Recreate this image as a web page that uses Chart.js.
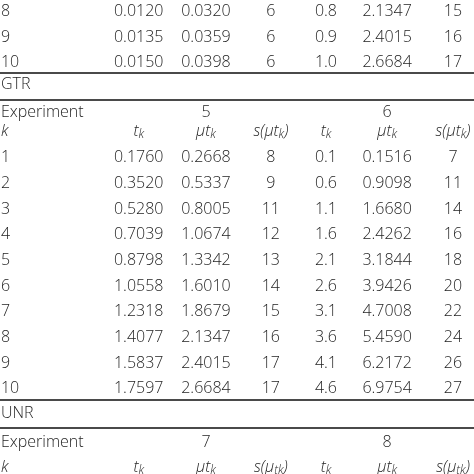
<!DOCTYPE html><html><head><style>html,body{margin:0;background:#fff}#w{width:474px;height:474px}</style>
<script src="https://cdn.jsdelivr.net/npm/chart.js@4"></script></head><body><div id="w"><canvas id="c"></canvas></div><script>
const topRows=[["8","0.0120","0.0320","6","0.8","2.1347","15"],["9","0.0135","0.0359","6","0.9","2.4015","16"],["10","0.0150","0.0398","6","1.0","2.6684","17"]];
const gtrExperiments=["5","6"];
const headers=["k","t_{k}","μt_{k}","s(μt_{k})","t_{k}","μt_{k}","s(μt_{k})"];
const gtrK=["1","2","3","4","5","6","7","8","9","10"];
const gtrT5=["0.1760","0.3520","0.5280","0.7039","0.8798","1.0558","1.2318","1.4077","1.5837","1.7597"];
const gtrMu5=["0.2668","0.5337","0.8005","1.0674","1.3342","1.6010","1.8679","2.1347","2.4015","2.6684"];
const gtrS5=["8","9","11","12","13","14","15","16","17","17"];
const gtrT6=["0.1","0.6","1.1","1.6","2.1","2.6","3.1","3.6","4.1","4.6"];
const gtrMu6=["0.1516","0.9098","1.6680","2.4262","3.1844","3.9426","4.7008","5.4590","6.2172","6.9754"];
const gtrS6=["7","11","14","16","18","20","22","24","26","27"];
const unrExperiments=["7","8"];
const unrHeaders=["k","t_{k}","μt_{k}","s(μ_{tk})","t_{k}","μt_{k}","s(μ_{tk})"];
const colX=[0.02,2.97,4.41,5.8,6.98,8.29,9.7];
const U=25.7;
const rowY={top:[11,37,62].map(v=>v/U),line1:73/U,gtr:84/U,line2:100/U,exp1:112/U,hdr1:131/U,
 body:[157,183,209,234,260,286,311,337,363,388].map(v=>v/U),line3:400/U,unr:413/U,line4:428/U,exp2:442/U,hdr2:467/U};
function drawRich(ctx,s,x,y,align,size){
  const segs=[];let i=0;
  while(i<s.length){ if(s[i]==='_'&&s[i+1]==='{'){const j=s.indexOf('}',i);segs.push([s.slice(i+2,j),1]);i=j+1;}
    else{let j=i;while(j<s.length&&!(s[j]==='_'&&s[j+1]==='{'))j++;segs.push([s.slice(i,j),0]);i=j;}}
  const fN=`italic 300 ${size}px "Open Sans"`,fS=`italic 300 ${Math.round(size*0.72)}px "Open Sans"`;
  let w=0;segs.forEach(g=>{ctx.font=g[1]?fS:fN;w+=ctx.measureText(g[0]).width;});
  let cx=align==='left'?x:x-w/2;ctx.textAlign='left';
  segs.forEach(g=>{ctx.font=g[1]?fS:fN;ctx.fillText(g[0],cx,g[1]?y+4:y);cx+=ctx.measureText(g[0]).width;});
}
const tablePlugin={id:'tbl',afterDraw(ch){
  const ctx=ch.ctx,xs=ch.scales.x,ys=ch.scales.y;const X=c=>xs.getPixelForValue(colX[c]),Y=v=>ys.getPixelForValue(v);
  ctx.save();ctx.fillStyle='#1e1e1e';ctx.textBaseline='middle';const F='300 16px "Open Sans"';
  const txt=(s,c,y)=>{ctx.font=F;ctx.textAlign=c===0?'left':'center';ctx.fillText(s,X(c),Y(y));};
  topRows.forEach((r,i)=>r.forEach((s,c)=>txt(s,c,rowY.top[i])));
  txt("GTR",0,rowY.gtr);txt("Experiment",0,rowY.exp1);txt(gtrExperiments[0],2,rowY.exp1);txt(gtrExperiments[1],5,rowY.exp1);
  headers.forEach((h,c)=>drawRich(ctx,h,X(c),Y(rowY.hdr1),c===0?'left':'center',16));
  const cols=[gtrK,gtrT5,gtrMu5,gtrS5,gtrT6,gtrMu6,gtrS6];
  cols.forEach((col,c)=>col.forEach((s,i)=>txt(s,c,rowY.body[i])));
  txt("UNR",0,rowY.unr);txt("Experiment",0,rowY.exp2);txt(unrExperiments[0],2,rowY.exp2);txt(unrExperiments[1],5,rowY.exp2);
  unrHeaders.forEach((h,c)=>drawRich(ctx,h,X(c),Y(rowY.hdr2),c===0?'left':'center',16));
  ctx.strokeStyle='#4a4a4a';ctx.lineWidth=2;
  [rowY.line1,rowY.line2,rowY.line3,rowY.line4].forEach(v=>{ctx.beginPath();ctx.moveTo(0,Y(v));ctx.lineTo(474,Y(v));ctx.stroke();});
  ctx.restore();}};
new Chart(document.getElementById('c'),{type:'scatter',data:{datasets:[{data:[]}]},
 options:{responsive:true,maintainAspectRatio:false,animation:false,layout:{padding:0},
  plugins:{legend:{display:false},tooltip:{enabled:false}},
  scales:{x:{type:'linear',min:0,max:10.15,display:false},y:{type:'linear',min:0,max:474/U,reverse:true,display:false}}},
 plugins:[tablePlugin]});
</script></body></html>
